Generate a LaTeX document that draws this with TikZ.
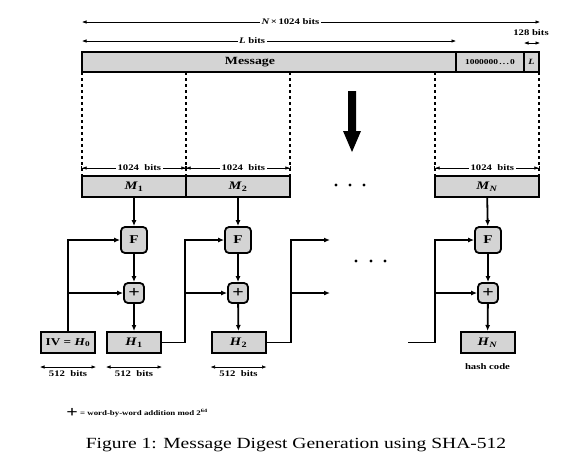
\documentclass[tikz,border=0pt]{standalone}
\usepackage{fontspec}
\setmainfont{Liberation Serif}[FakeStretch=1.26]
\usetikzlibrary{arrows.meta}
\definecolor{boxgray}{RGB}{212,212,212}
\tikzset{
  blockbox/.style={draw, line width=2pt, fill=boxgray, inner sep=0pt,
    font=\bfseries\fontsize{11.5}{12}\selectfont},
  funbox/.style={draw, line width=1.8pt, fill=boxgray, rounded corners=4pt,
    minimum size=26pt, inner sep=0pt, font=\bfseries\fontsize{12}{12}\selectfont},
  addbox/.style={funbox, minimum size=20pt, rounded corners=4pt,
    font=\bfseries\fontsize{16}{16}\selectfont},
  wire/.style={line width=1.8pt},
  flow/.style={wire, -{Latex[length=6pt,width=5pt]}},
  dimline/.style={line width=0.6pt,
    {Latex[length=4.5pt,width=3.5pt]}-{Latex[length=4.5pt,width=3.5pt]}},
  barline/.style={line width=0.6pt,
    {Bar[width=4pt,line width=1.2pt]Latex[length=4.5pt,width=3.5pt]}-{Latex[length=4.5pt,width=3.5pt]Bar[width=4pt,line width=1.2pt]}},
  dimtext/.style={fill=white, inner sep=1.5pt, font=\bfseries\fontsize{8.5}{9}\selectfont},
  smalltext/.style={inner sep=1pt, font=\bfseries\fontsize{8.5}{9}\selectfont},
  cutline/.style={line width=2pt, dash pattern=on 3pt off 3pt},
}

\begin{document}
\begin{tikzpicture}[x=1pt,y=-1pt]
  \useasboundingbox (0,0) rectangle (565,464);

  % message bar
  \node[blockbox, minimum width=374pt, minimum height=20pt] (msg) at (269,62) {};
  \node[font=\bfseries\fontsize{11}{11}\selectfont] (msgtext) at (250,62) {Message};
  \node[blockbox, minimum width=68pt, minimum height=20pt,
    font=\bfseries\fontsize{7.5}{8}\selectfont] (pad) at (490,62) {1000000\,.\,.\,.\,0};
  \node[blockbox, minimum width=15pt, minimum height=20pt,
    font=\bfseries\itshape\fontsize{8}{8}\selectfont] (len) at (531.5,62) {L};

  % lengths above the bar
  \coordinate (ntop1) at (82,22);
  \coordinate (ntop2) at (540,22);
  \coordinate (ltop1) at (82,41);
  \coordinate (ltop2) at (456,41);
  \coordinate (ktop1) at (524,43);
  \coordinate (ktop2) at (540,43);
  \draw[dimline] (ntop1) -- node[dimtext, pos=.455] {\textit{N}\,×\,1024 bits} (ntop2);
  \draw[dimline] (ltop1) -- node[dimtext, pos=.455] {\textit{L} bits} (ltop2);
  \draw[dimline] (ktop1) -- (ktop2);
  \node[smalltext] (klabel) at (531,33) {128 bits};

  % message blocks
  \node[blockbox, minimum width=104pt, minimum height=21pt] (m1) at (134,186.5) {\textit{M}\textsubscript{1}};
  \node[blockbox, minimum width=104pt, minimum height=21pt] (m2) at (238,186.5) {\textit{M}\textsubscript{2}};
  \node[blockbox, minimum width=104pt, minimum height=21pt] (mn) at (487,186.5) {\textit{M}\textsubscript{\textit{N}}};

  % cut lines
  \foreach \cx in {82,186,290,435,539}
    \draw[cutline] (\cx,72) -- (\cx,176);

  % block lengths
  \draw[barline] (m1.north west |- 0,168) -- node[dimtext, pos=.55] {1024\ \ bits} (m1.north east |- 0,168);
  \draw[barline] (m2.north west |- 0,168) -- node[dimtext, pos=.55] {1024\ \ bits} (m2.north east |- 0,168);
  \draw[barline] (mn.north west |- 0,168) -- node[dimtext, pos=.55] {1024\ \ bits} (mn.north east |- 0,168);

  % big arrow
  \fill (348,91) -- (356,91) -- (356,131) -- (361,131) -- (352,152)
    -- (343,131) -- (348,131) -- cycle;

  % dots
  \foreach \dx in {336,350,364}
    \fill (\dx,185) circle (1.6pt);
  \foreach \dx in {356,371,385}
    \fill (\dx,261) circle (1.6pt);

  % compression stages
  \node[funbox] (f1) at (134,240) {F};
  \node[funbox] (f2) at (238,240) {F};
  \node[funbox] (fn) at (488,240) {F};
  \node[addbox] (a1) at (134,293) {+};
  \node[addbox] (a2) at (238,293) {+};
  \node[addbox] (an) at (488,293) {+};

  \node[blockbox, minimum width=54pt, minimum height=21pt,
    font=\bfseries\fontsize{10.5}{11}\selectfont] (iv) at (68,342.5) {IV = \textit{H}\textsubscript{0}};
  \node[blockbox, minimum width=54pt, minimum height=21pt] (h1) at (134,342.5) {\textit{H}\textsubscript{1}};
  \node[blockbox, minimum width=54pt, minimum height=21pt] (h2) at (238.5,342.5) {\textit{H}\textsubscript{2}};
  \node[blockbox, minimum width=54pt, minimum height=21pt] (hn) at (487.5,342.5) {\textit{H}\textsubscript{\textit{N}}};

  \draw[flow] (m1) -- (f1);
  \draw[flow] (f1) -- (a1);
  \draw[flow] (a1) -- (h1);
  \draw[flow] (m2) -- (f2);
  \draw[flow] (f2) -- (a2);
  \draw[flow] (a2) -- (h2);
  \draw[flow] (mn) -- (fn);
  \draw[flow] (fn) -- (an);
  \draw[flow] (an) -- (hn);

  % chaining values
  \draw[flow] (iv.north) |- (f1.west);
  \draw[flow] (iv.north |- a1) -- (a1.west);

  \coordinate (j1) at (185,342.5);
  \draw[wire] (h1.east) -- (j1);
  \draw[flow] (j1) |- (f2.west);
  \draw[flow] (j1 |- a2) -- (a2.west);

  \coordinate (j2) at (291,342.5);
  \coordinate (o1) at (330,240);
  \coordinate (o2) at (330,293);
  \draw[wire] (h2.east) -- (j2);
  \draw[flow] (j2) |- (o1);
  \draw[flow] (j2 |- o2) -- (o2);

  \coordinate (inn) at (408,342.5);
  \coordinate (jn) at (435,342.5);
  \draw[wire] (inn) -- (jn);
  \draw[flow] (jn) |- (fn.west);
  \draw[flow] (jn |- an) -- (an.west);

  % chaining value lengths
  \draw[dimline] (iv.west |- 0,367) -- node[smalltext, below=2pt] {512\ \ bits} (iv.east |- 0,367);
  \draw[dimline] (h1.west |- 0,367) -- node[smalltext, below=2pt] {512\ \ bits} (h1.east |- 0,367);
  \draw[dimline] (h2.west |- 0,367) -- node[smalltext, below=2pt] {512\ \ bits} (h2.east |- 0,367);
  \node[smalltext] (hash) at (487.5,367) {hash code};

  % legend
  \node[font=\bfseries\fontsize{16}{16}\selectfont, inner sep=0pt] (plus) at (72,413) {+};
  \node[anchor=west, inner sep=0pt, font=\bfseries\fontsize{7}{7}\selectfont] (legend) at (80,413)
    {= word-by-word addition mod 2\textsuperscript{64}};

  % caption
  \node[font=\fontsize{15.5}{17}\selectfont] (caption) at (296,445)
    {Figure 1: Message Digest Generation using SHA-512};
\end{tikzpicture}
\end{document}
